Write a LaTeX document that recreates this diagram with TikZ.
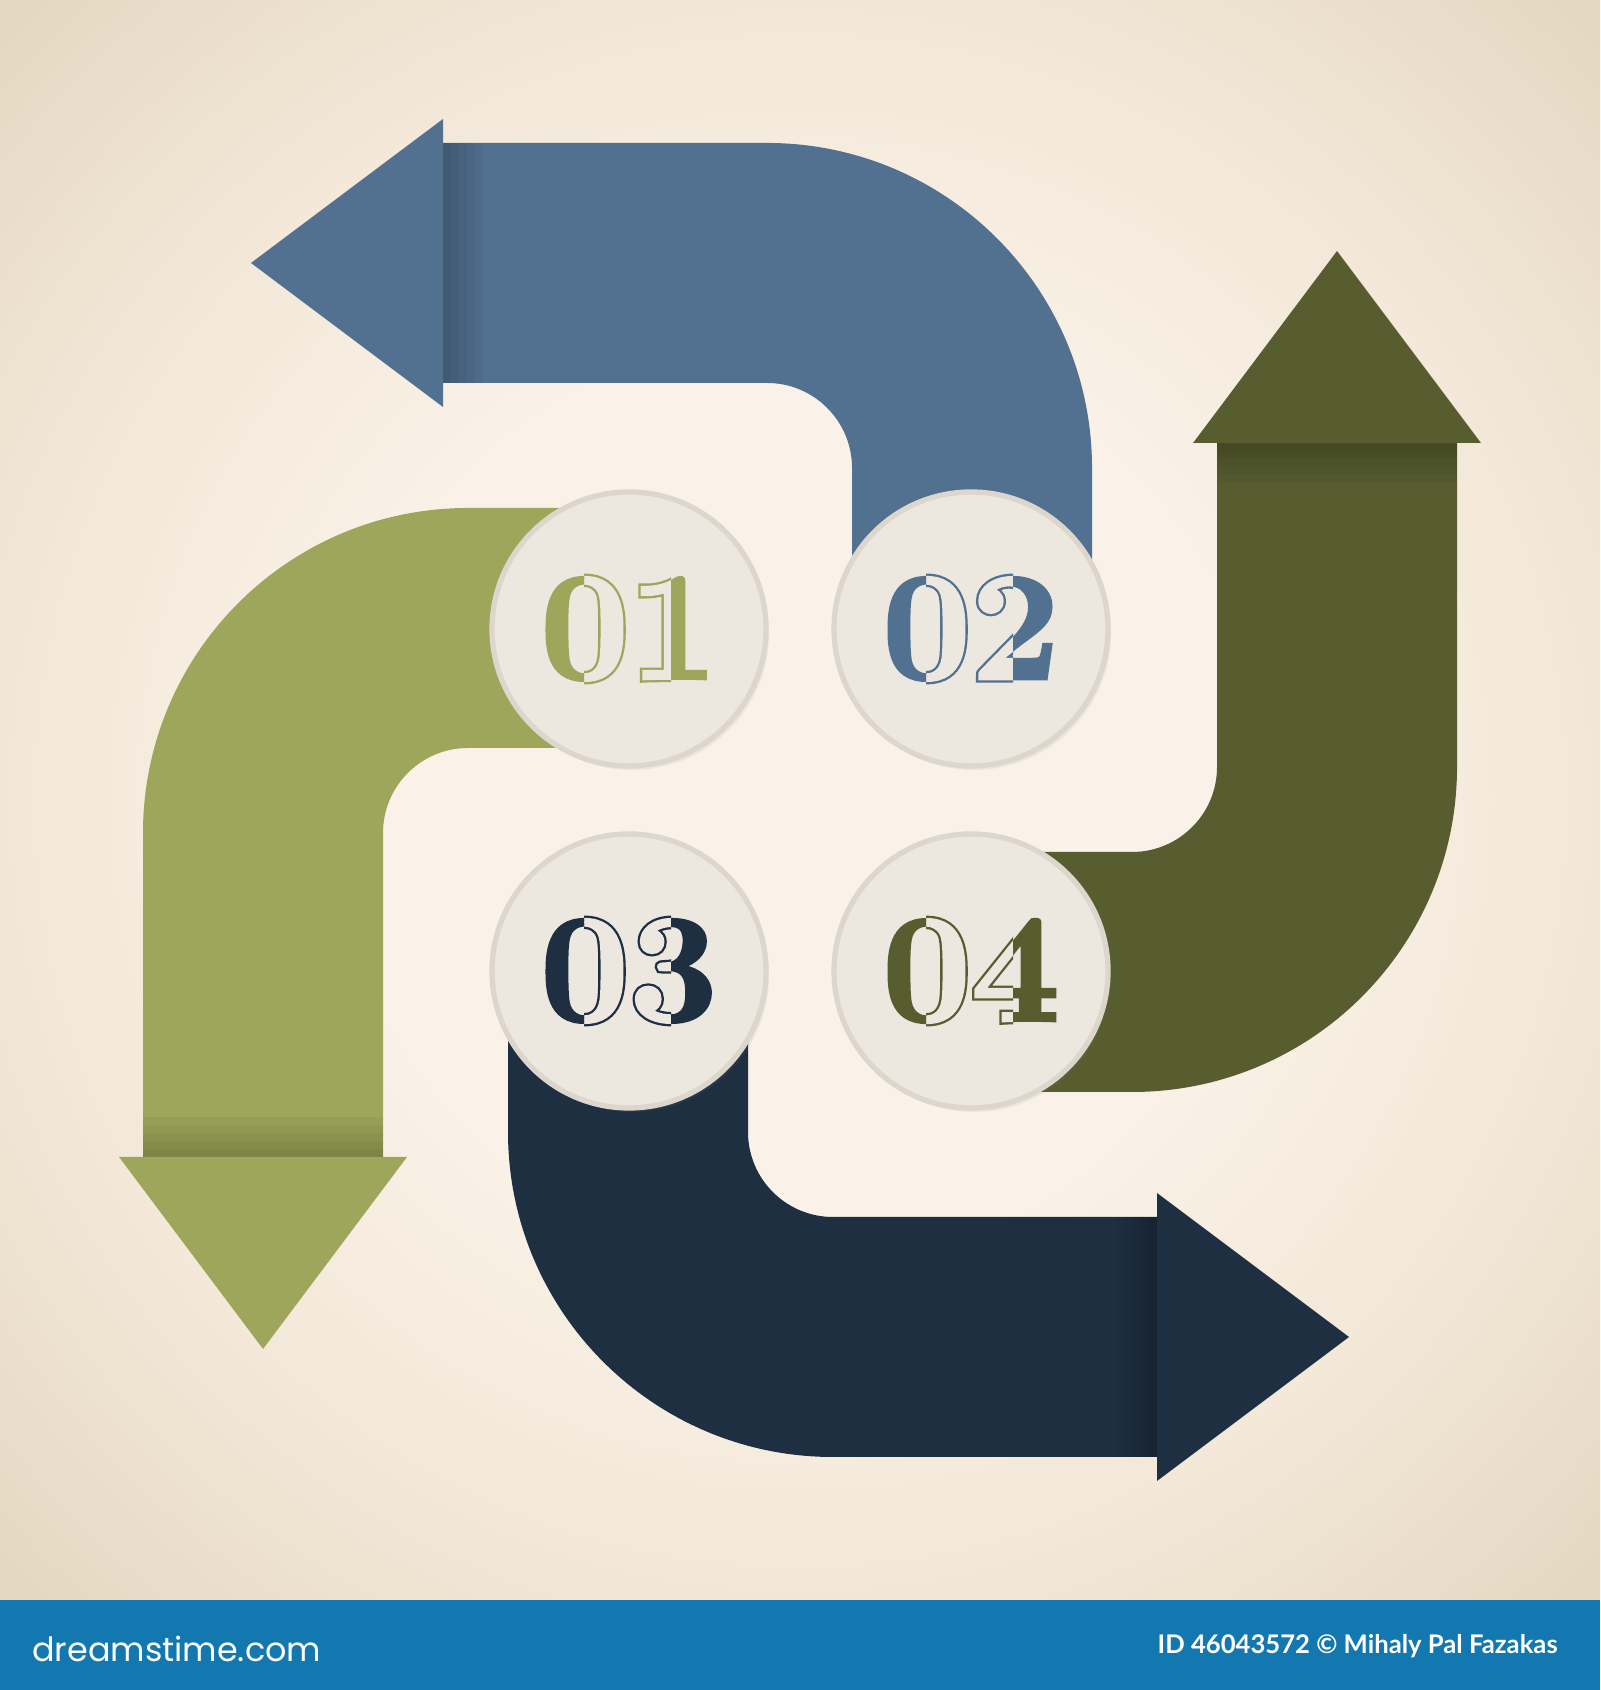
\documentclass[tikz,border=0pt]{standalone}
\usepackage{fontspec}
\usepackage{xcolor}
\usetikzlibrary{positioning}
\usetikzlibrary{calc,shadows}

\newfontfamily\chiffre[FakeBold=2]{lmroman10-bold.otf}
\newfontfamily\chiffregras[FakeBold=5]{lmroman10-bold.otf}
\newfontfamily\logo{Poppins}
\newfontfamily\credit{Lato}

\definecolor{bleu}{HTML}{52708F}
\definecolor{olive}{HTML}{9DA65A}
\definecolor{kaki}{HTML}{575D2E}
\definecolor{marine}{HTML}{1F2F42}
\definecolor{creme}{HTML}{ECE7DF}
\definecolor{bord}{HTML}{DCD6CC}
\definecolor{bandeau}{HTML}{1378B0}
\definecolor{fondclair}{HTML}{FAF2E8}
\definecolor{fondmoyen}{HTML}{F2E7D7}
\definecolor{fondsombre}{HTML}{E3D5BF}

\pgfdeclareradialshading{vignette}{\pgfpoint{0bp}{0bp}}{color(0bp)=(fondclair); color(14bp)=(fondclair); color(25bp)=(fondmoyen); color(36bp)=(fondsombre); color(50bp)=(fondsombre)}

\newcommand{\fleche}{(0.52,1.71) -- (0.52,3.32) arc[start angle=0, end angle=90, radius=0.85] -- (-3.57,4.17) -- (-3.57,3.93) -- (-5.49,5.37) -- (-3.57,6.81) -- (-3.57,6.57) -- (-0.33,6.57) arc[start angle=90, end angle=0, radius=3.25] -- (2.92,1.71) -- cycle}
\newcommand{\ombre}[1]{\foreach \k in {1,...,5} \fill[black, opacity=0.04, rotate=#1] (-3.57,4.17) rectangle (-3.57+0.08*\k,6.57);}
\newcommand{\numero}[3]{%
 \begin{scope}
 \clip ($(#1)+(-0.45,-0.8)$) rectangle ($(#1)+(0.42,0.8)$);
 \node[trait, text=#3] (#1a) at (#1) {#2};
 \node[plein, text=creme] (#1b) at (#1) {#2};
 \end{scope}
 \begin{scope}
 \clip ($(#1)+(-1.2,-0.8)$) rectangle ($(#1)+(-0.45,0.8)$) ($(#1)+(0.42,-0.8)$) rectangle ($(#1)+(1.2,0.8)$);
 \node[plein, text=#3] (#1c) at (#1) {#2};
 \end{scope}}

\begin{document}
\begin{tikzpicture}[
pastille/.style = {
  circle,
  minimum size=2.74cm,
  inner sep=0pt,
  fill=creme,
  draw=bord,
  line width=1.5pt,
  drop shadow={opacity=0.1, shadow xshift=0.03cm, shadow yshift=-0.04cm}},
plein/.style = {font=\chiffre\fontsize{44}{44}\selectfont, inner sep=0pt},
trait/.style = {font=\chiffregras\fontsize{44}{44}\selectfont, inner sep=0pt},
]
\useasboundingbox (0,0) rectangle (16,16.9);
\shade[shading=vignette] (0,0.9) rectangle (16,16.9);
\fill[bandeau] (0,0) rectangle (16,0.9);

\begin{scope}[shift={(8,8.9)}]
\fill[bleu] \fleche; \ombre{0}
\fill[kaki, rotate=-90] \fleche; \ombre{-90}
\fill[marine, rotate=-180] \fleche; \ombre{-180}
\fill[olive, rotate=-270] \fleche; \ombre{-270}

\node[pastille] (p1) at (-1.71,1.71) {};
\node[pastille] (p2) at (1.71,1.71) {};
\node[pastille] (p3) at (-1.71,-1.71) {};
\node[pastille] (p4) at (1.71,-1.71) {};
\end{scope}

\numero{p1}{01}{olive}
\numero{p2}{02}{bleu}
\numero{p3}{03}{marine}
\numero{p4}{04}{kaki}

\node[font=\logo\fontsize{9.5}{10}\selectfont, text=white, anchor=base west] (site) at (0.2,0.28) {dreamstime.com};
\node[font=\credit\bfseries\fontsize{7.3}{8}\selectfont, text=white, anchor=base east] (id) at (15.7,0.37) {ID 46043572 © Mihaly Pal Fazakas};
\end{tikzpicture}
\end{document}
